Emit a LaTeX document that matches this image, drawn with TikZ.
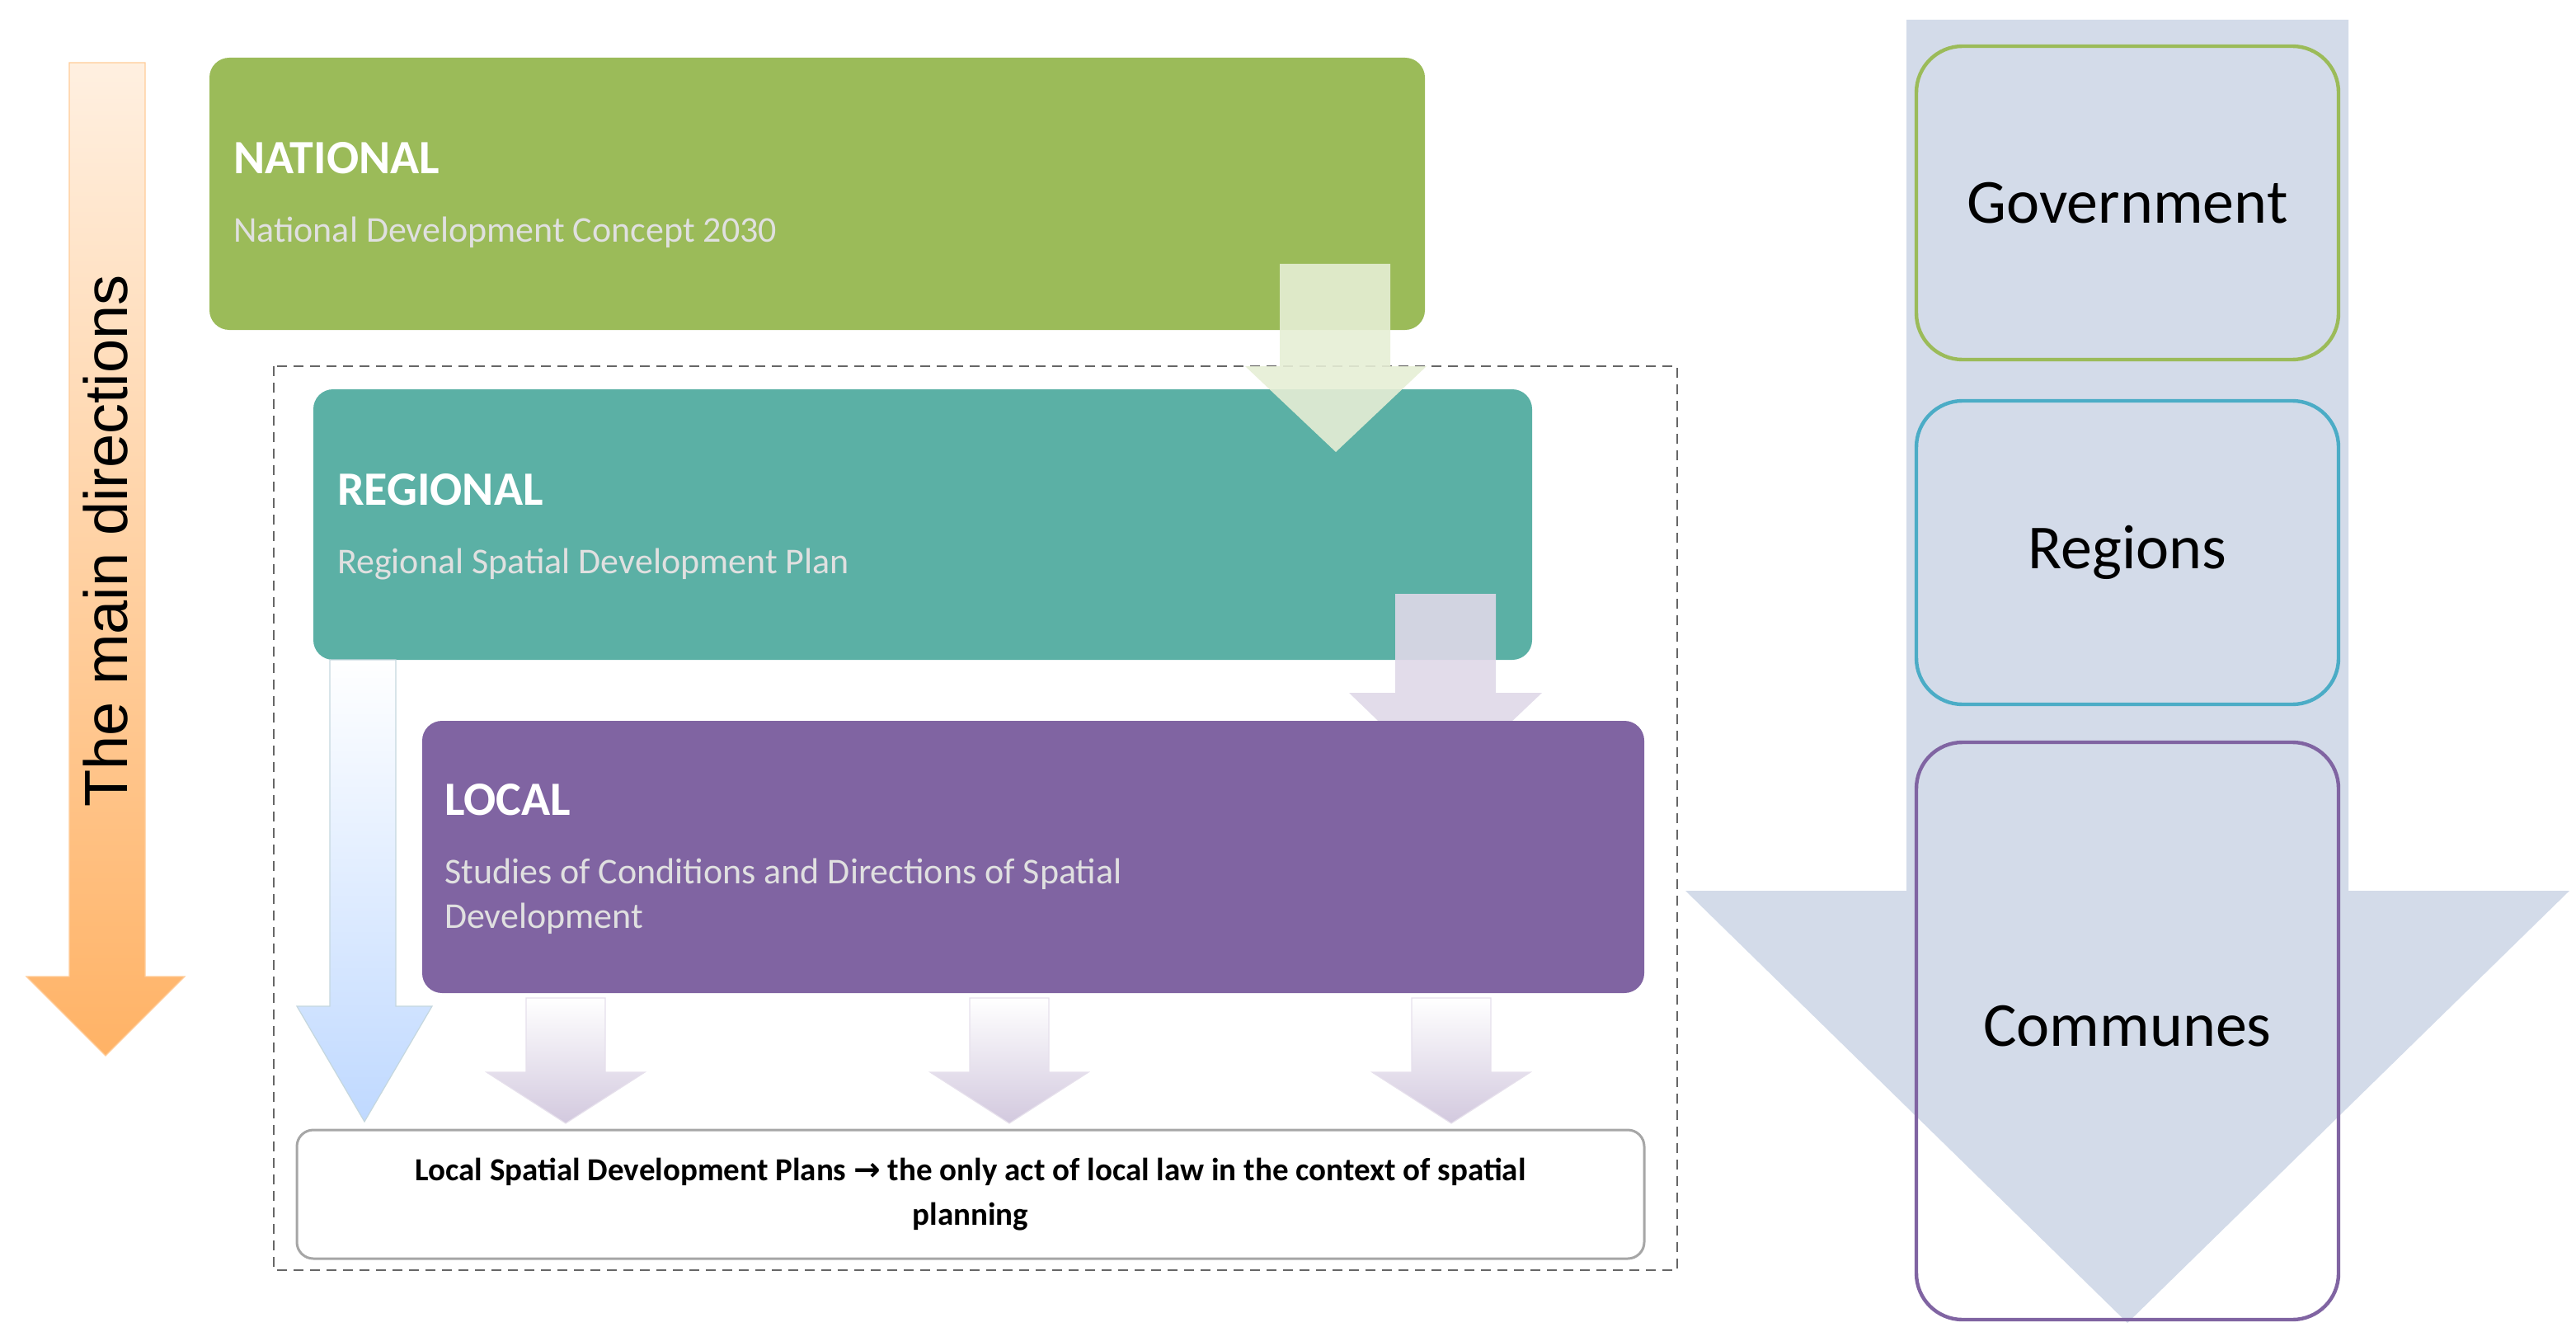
\documentclass[tikz,border=0pt]{standalone}
\usepackage{fontspec}
\setmainfont{Carlito}
\newfontfamily\arialf{Liberation Sans}
\newfontfamily\djv{DejaVu Sans}
\begin{document}
\begin{tikzpicture}[x=1pt,y=-1pt,
  lvl/.style={rounded corners=12pt,draw=none},
  ttl/.style={anchor=west,text=white,font=\bfseries\fontsize{29}{34}\selectfont},
  sub/.style={anchor=west,text=white!88!black,font=\fontsize{22}{27}\selectfont,align=left},
  rbox/.style={rounded corners=28pt,line width=2.2pt,fill=blueback},
  rtxt/.style={font=\fontsize{38}{44}\selectfont,text=black}]
\definecolor{natg}{HTML}{9BBB59}
\definecolor{regt}{HTML}{5BB0A5}
\definecolor{locp}{HTML}{8064A2}
\definecolor{blueback}{HTML}{D3DBE9}
\definecolor{regb}{HTML}{4BACC6}
\useasboundingbox (0,0) rectangle (1562,807.5);
% orange arrow
\shade[top color=orange!12,bottom color=orange!60,draw=orange!40,line width=0.6pt]
  (42,38) -- (88,38) -- (88,592) -- (112,592) -- (64,640) -- (16,592) -- (42,592) -- cycle;
\node[rotate=90,font=\arialf\fontsize{37}{40}\selectfont] (dir) at (64,328) {The main directions};
% right big arrow
\fill[blueback] (1156,12) -- (1424,12) -- (1424,540) -- (1558,540) -- (1290,802) -- (1022,540) -- (1156,540) -- cycle;
\node[rbox,draw=natg,minimum width=256pt,minimum height=190pt] (gov) at (1290,123) {};
\node[rtxt] at (gov) {Government};
\node[rbox,draw=regb,minimum width=256pt,minimum height=184pt] (reg) at (1290,335) {};
\node[rtxt] at (reg) {Regions};
\node[rbox,draw=locp,fill=none,minimum width=256pt,minimum height=350pt] (com) at (1290,625) {};
\node[rtxt] at (1290,622) {Communes};
% dashed frame
\draw[gray!80!black,line width=1pt,dash pattern=on 6pt off 4pt] (166,222) rectangle (1017,770);
% national
\fill[natg,lvl] (127,35) rectangle (864,200);
\node[ttl] (nt) at (138,96) {NATIONAL};
\node[sub] (ns) at (138,141) {National Development Concept 2030};
% regional
\fill[regt,lvl] (190,236) rectangle (929,400);
\node[ttl] (rt) at (201,297) {REGIONAL};
\node[sub] (rs) at (201,342) {Regional Spatial Development Plan};
% green arrow nat->reg
\fill[natg!25!white,opacity=0.9] (776,160) -- (843,160) -- (843,222) -- (865,222) -- (810,274) -- (755,222) -- (776,222) -- cycle;
% purple arrow reg->loc
\fill[locp!25!white,opacity=0.9] (846,360) -- (907,360) -- (907,420) -- (935,420) -- (876,476) -- (818,420) -- (846,420) -- cycle;
% local
\fill[locp,lvl] (256,437) rectangle (997,602);
\node[ttl] (lt) at (266,485) {LOCAL};
\node[sub,anchor=north west] (ls) at (266,517) {Studies of Conditions and Directions of Spatial\\Development};
% cyan arrow
\shade[top color=white,bottom color=cyan!40!blue!25!white,draw=cyan!30!gray!40,line width=0.6pt]
  (200,400) -- (240,400) -- (240,610) -- (262,610) -- (221,680) -- (180,610) -- (200,610) -- cycle;
% three small arrows
\foreach \c in {343,612,880}{
  \shade[top color=white,bottom color=locp!35!white,draw=locp!20!white,line width=0.6pt]
   (\c-24,605) -- (\c+24,605) -- (\c+24,650) -- (\c+48,650) -- (\c,681) -- (\c-48,650) -- (\c-24,650) -- cycle;}
% bottom box
\node[draw=gray!70,line width=1.5pt,fill=white,rounded corners=10pt,minimum width=817pt,minimum height=78pt,
  align=center,font=\bfseries\fontsize{19.5}{27}\selectfont] (lsdp) at (588.5,724)
  {Local Spatial Development Plans {\djv\bfseries →} the only act of local law in the context of spatial\\planning};
\end{tikzpicture}
\end{document}
